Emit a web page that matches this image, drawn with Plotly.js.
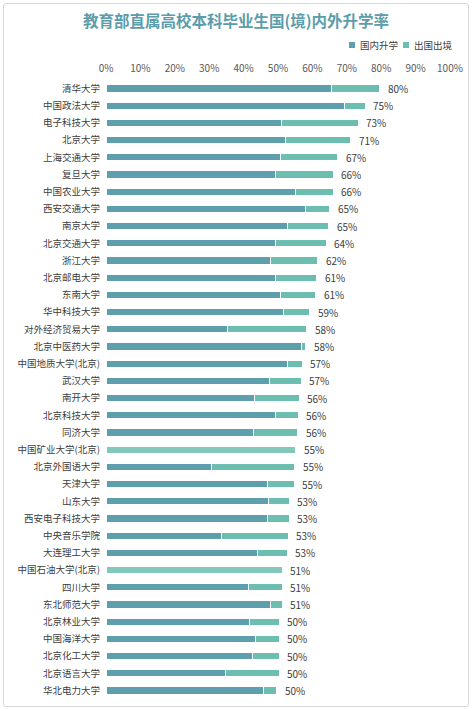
<!DOCTYPE html>
<html>
<head>
<meta charset="utf-8">
<script src="https://cdn.plot.ly/plotly-3.0.1.min.js"></script>
<style>
  html, body { margin: 0; padding: 0; background: #ffffff; }
  #wrap { position: relative; width: 474px; height: 711px; }
  #frame { position: absolute; left: 3px; top: 3px; width: 464px; height: 702px; border: 1px solid #d9d9d9; border-radius: 3px; pointer-events: none; }
  #chart { position: absolute; left: 0; top: 0; width: 474px; height: 711px; }
</style>
</head>
<body>
<div id="wrap">
  <div id="frame"></div>
  <div id="chart"></div>
</div>
<script>
// ---- data ----
const universities = ['清华大学','中国政法大学','电子科技大学','北京大学','上海交通大学','复旦大学','中国农业大学','西安交通大学','南京大学','北京交通大学','浙江大学','北京邮电大学','东南大学','华中科技大学','对外经济贸易大学','北京中医药大学','中国地质大学(北京)','武汉大学','南开大学','北京科技大学','同济大学','中国矿业大学(北京)','北京外国语大学','天津大学','山东大学','西安电子科技大学','中央音乐学院','大连理工大学','中国石油大学(北京)','四川大学','东北师范大学','北京林业大学','中国海洋大学','北京化工大学','北京语言大学','华北电力大学'];
const domestic = [65.6,69.3,51.1,52.3,50.8,49.4,55.0,58.1,52.7,49.4,47.8,49.4,50.6,51.6,35.4,56.9,52.8,47.6,43.3,49.4,43.0,null,30.6,46.9,47.2,46.9,33.5,44.0,null,41.4,47.7,41.8,43.5,42.5,34.7,45.7];
const abroad = [14.0,6.0,22.2,18.9,16.5,16.6,11.0,7.0,12.1,14.6,13.8,11.9,10.3,7.6,23.0,1.2,4.2,9.1,12.9,6.5,12.7,null,24.3,7.8,6.0,6.3,19.5,8.7,null,9.9,3.6,8.5,6.8,7.8,15.6,4.0];
const combinedOnly = [null,null,null,null,null,null,null,null,null,null,null,null,null,null,null,null,null,null,null,null,null,55.2,null,null,null,null,null,null,51.3,null,null,null,null,null,null,null];
const totalLabels = [80,75,73,71,67,66,66,65,65,64,62,61,61,59,58,58,57,57,56,56,56,55,55,55,53,53,53,53,51,51,51,50,50,50,50,50];
const xTicks = [0,10,20,30,40,50,60,70,80,90,100];
const seriesNames = ['国内升学','出国出境'];

const colDomestic = '#5e9fae';
const colAbroad = '#6cbfb0';
const colCombined = '#82c8bd';
const seriesColors = [colDomestic, colAbroad];

const traces = [
  {
    type: 'bar', orientation: 'h', name: seriesNames[0],
    y: universities, x: domestic,
    marker: { color: colDomestic, line: { color: '#ffffff', width: 1 } },
    hoverinfo: 'skip'
  },
  {
    type: 'bar', orientation: 'h', name: seriesNames[1],
    y: universities, x: abroad,
    marker: { color: colAbroad, line: { color: '#ffffff', width: 1 } },
    hoverinfo: 'skip'
  },
  {
    type: 'bar', orientation: 'h', name: '合计',
    y: universities, x: combinedOnly,
    marker: { color: colCombined, line: { color: '#ffffff', width: 1 } },
    hoverinfo: 'skip'
  }
];

const labelFont = { family: '"Noto Sans CJK SC", "Noto Sans", sans-serif', size: 10, color: '#404040' };

const annotations = universities.map((u, i) => ({
  x: (domestic[i] || 0) + (abroad[i] || 0) + (combinedOnly[i] || 0),
  y: u, xref: 'x', yref: 'y',
  text: totalLabels[i] + '%', showarrow: false,
  xanchor: 'left', xshift: 6,
  font: labelFont
}));

// custom legend (small square markers like the reference)
const plotL = 106, plotW = 344, plotBottom = 700, plotH = 621;
const px = v => (v - plotL) / plotW;
const py = v => (plotBottom - v) / plotH;
const legendStarts = [349, 403];
const legendY = 45;
const shapes = [];
seriesNames.forEach((nm, k) => {
  const x0 = legendStarts[k];
  shapes.push({
    type: 'rect', xref: 'paper', yref: 'paper',
    x0: px(x0), x1: px(x0 + 6), y0: py(legendY + 3), y1: py(legendY - 3),
    fillcolor: seriesColors[k], line: { width: 0 }
  });
  annotations.push({
    xref: 'paper', yref: 'paper', x: px(x0 + 9), y: py(legendY),
    xanchor: 'left', yanchor: 'middle', showarrow: false,
    text: nm, font: { family: '"Noto Sans CJK SC", sans-serif', size: 9.5, color: '#404040' }
  });
});

const layout = {
  width: 474, height: 711,
  margin: { l: 106, r: 24, t: 79, b: 11 },
  paper_bgcolor: 'rgba(0,0,0,0)',
  plot_bgcolor: 'rgba(0,0,0,0)',
  barmode: 'stack',
  bargap: 0.58,
  showlegend: false,
  title: {
    text: '<b>教育部直属高校本科毕业生国(境)内外升学率</b>',
    x: 236/474, xref: 'container', xanchor: 'center',
    y: 1 - 22/711, yref: 'container', yanchor: 'middle',
    font: { family: '"Noto Sans CJK SC", sans-serif', size: 15.5, color: '#5b9dab' }
  },
  xaxis: {
    side: 'top', range: [0, 100], fixedrange: true,
    tickmode: 'array', tickvals: xTicks, ticktext: xTicks.map(v => v + '%'),
    showgrid: false, zeroline: false, showline: false, ticks: '',
    ticklabelstandoff: 4,
    tickfont: { family: '"Noto Sans CJK SC", "Noto Sans", sans-serif', size: 10, color: '#595959' }
  },
  yaxis: {
    autorange: 'reversed', type: 'category', fixedrange: true,
    showgrid: false, zeroline: false, showline: false, ticks: '',
    ticklabelstandoff: 5,
    tickfont: { family: '"Noto Sans CJK SC", sans-serif', size: 9.5, color: '#404040' }
  },
  shapes: shapes,
  annotations: annotations
};

Plotly.newPlot('chart', traces, layout, { displayModeBar: false, staticPlot: true });
</script>
</body>
</html>
